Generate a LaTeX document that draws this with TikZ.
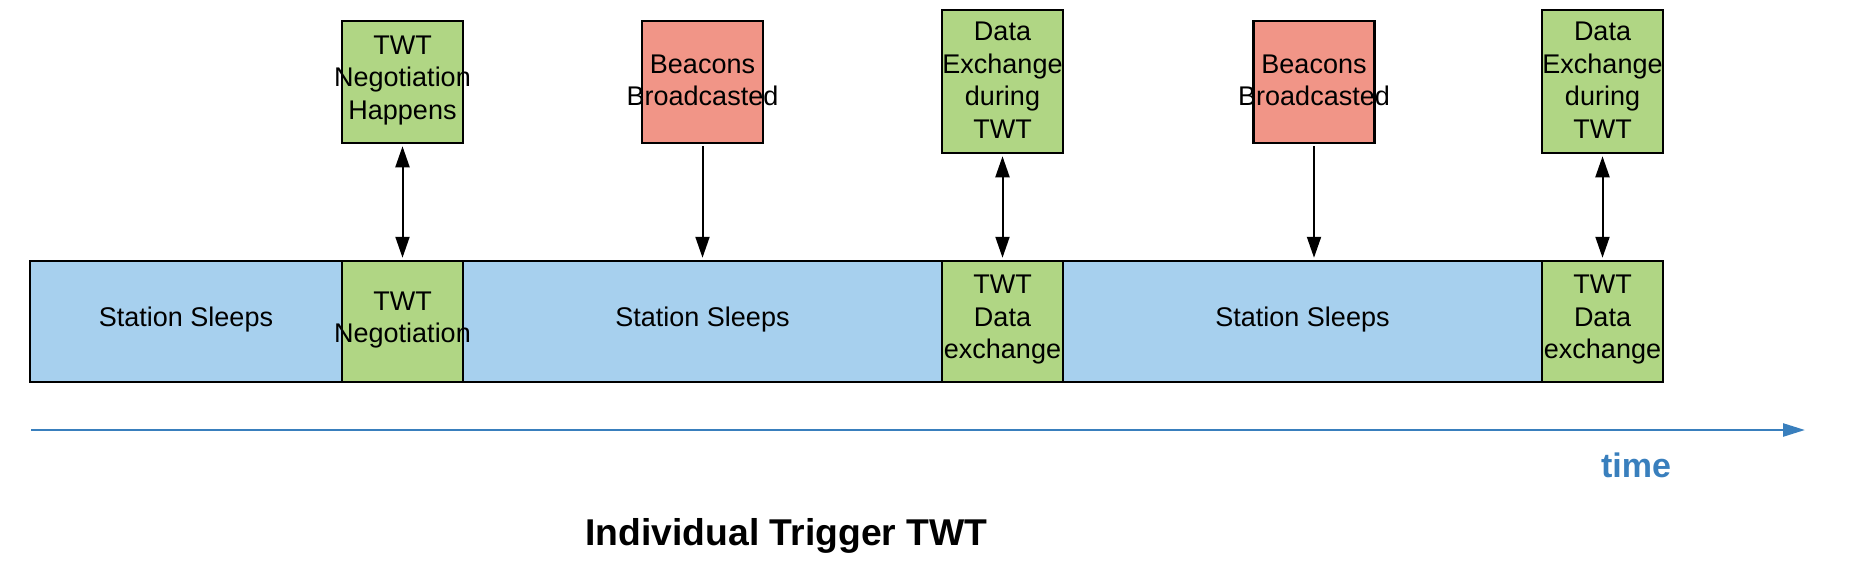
\documentclass[tikz,border=0pt]{standalone}
\usepackage{fontspec}
\setmainfont{Liberation Sans}
\usetikzlibrary{arrows.meta}
\definecolor{sleepblue}{RGB}{167,208,238}
\definecolor{twtgreen}{RGB}{176,214,132}
\definecolor{beaconred}{RGB}{241,149,135}
\definecolor{axisblue}{RGB}{57,127,189}
\tikzset{
  mytip/.tip={Triangle[length=21pt,width=14pt]},
  box/.style={draw=black, line width=2.5pt, inner sep=0pt, minimum width=121pt},
  topbox/.style={box, minimum height=122pt},
  tallbox/.style={box, minimum height=143pt},
  barbox/.style={box, minimum height=121pt},
  lbl/.style={align=center, inner sep=0pt, yshift=1.5pt, font=\fontsize{27}{32.5}\selectfont},
  link/.style={line width=2pt, shorten >=2pt, shorten <=2pt},
  twoway/.style={link, mytip-mytip},
  oneway/.style={link, -mytip}
}
\begin{document}
\begin{tikzpicture}[x=1pt,y=-1pt]
\useasboundingbox (0,0) rectangle (1850,562);
% top boxes
\node[topbox, fill=twtgreen] (nh) at (402.5,82) {};
\node[lbl] (nht) at (nh) {TWT\\Negotiation\\Happens};
\node[topbox, fill=beaconred] (b1) at (702.5,82) {};
\node[lbl] (b1t) at (b1) {Beacons\\Broadcasted};
\node[tallbox, fill=twtgreen] (dx1) at (1002.5,81.5) {};
\node[lbl] (dx1t) at (dx1) {Data\\Exchange\\during\\TWT};
\node[topbox, fill=beaconred] (b2) at (1314,82) {};
\node[lbl] (b2t) at (b2) {Beacons\\Broadcasted};
\node[tallbox, fill=twtgreen] (dx2) at (1602.5,81.5) {};
\node[lbl] (dx2t) at (dx2) {Data\\Exchange\\during\\TWT};
% bottom bar
\node[barbox, fill=sleepblue, minimum width=312pt] (s1) at (186,321.5) {};
\node[lbl] (s1t) at (s1) {Station Sleeps};
\node[barbox, fill=sleepblue, minimum width=479pt] (s2) at (702.5,321.5) {};
\node[lbl] (s2t) at (s2) {Station Sleeps};
\node[barbox, fill=sleepblue, minimum width=479pt] (s3) at (1302.5,321.5) {};
\node[lbl] (s3t) at (s3) {Station Sleeps};
\node[barbox, fill=twtgreen] (ng) at (402.5,321.5) {};
\node[lbl] (ngt) at (ng) {TWT\\Negotiation};
\node[barbox, fill=twtgreen] (d1) at (1002.5,321.5) {};
\node[lbl] (d1t) at (d1) {TWT\\Data\\exchange};
\node[barbox, fill=twtgreen] (d2) at (1602.5,321.5) {};
\node[lbl] (d2t) at (d2) {TWT\\Data\\exchange};
% connectors
\draw[twoway] (nh.south) -- (ng.north);
\draw[oneway] (b1.south) -- (s2.north);
\draw[twoway] (dx1.south) -- (d1.north);
\draw[oneway] (b2.south) -- (b2.south |- s3.north);
\draw[twoway] (dx2.south) -- (d2.north);
% time axis
\coordinate (ax0) at (31,430);
\coordinate (ax1) at (1805,430);
\draw[axisblue, line width=2.5pt, -{Triangle[length=22pt,width=13pt]}] (ax0) -- (ax1);
\node[anchor=base, text=axisblue, inner sep=0pt, font=\fontsize{34}{40}\selectfont\bfseries] (time) at (1636,477) {time};
\node[anchor=base, inner sep=0pt, font=\fontsize{37.3}{44}\selectfont\bfseries] (title) at (786.5,545) {Individual Trigger TWT};
\end{tikzpicture}
\end{document}
